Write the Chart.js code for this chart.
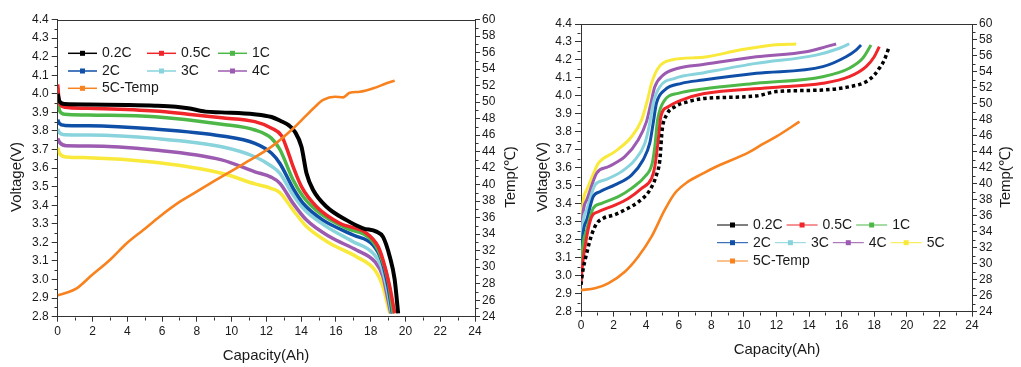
<!DOCTYPE html>
<html>
<head>
<meta charset="utf-8">
<script src="https://cdn.jsdelivr.net/npm/chart.js@4.4.0/dist/chart.umd.min.js"></script>
<style>
body{margin:0;background:#fff;}
#wrap{position:relative;width:1021px;height:367px;}
.box{position:absolute;top:0;height:367px;}
#boxL{left:0;width:520px;}
#boxR{left:520px;width:501px;}
</style>
</head>
<body>
<div id="wrap">
  <div class="box" id="boxL"><canvas id="chartL" width="520" height="367"></canvas></div>
  <div class="box" id="boxR"><canvas id="chartR" width="501" height="367"></canvas></div>
</div>
<script>
"use strict";

// ---- data: discharge (left) ----
const dCap02 = [0,0.1,0.4,1.8,4.0,5.6,6.8,7.5,8.5,9.4,11.3,12.3,12.8,13.3,13.64,14.02,14.31,14.69,15.46,16.61,17.56,18.33,18.71,19.1,19.38,19.58];
const dV02   = [4.00,3.96,3.945,3.943,3.94,3.936,3.93,3.922,3.904,3.90,3.89,3.875,3.855,3.83,3.796,3.715,3.572,3.482,3.392,3.32,3.276,3.258,3.23,3.123,3.0,2.818];
const dCap05 = [0,0.1,0.4,1.76,5.59,7.5,9.43,11.34,12.3,12.87,13.2,13.54,14.02,14.89,16.22,17.76,18.43,18.71,19.1,19.38];
const dV05   = [4.05,3.95,3.928,3.922,3.907,3.89,3.871,3.85,3.815,3.775,3.70,3.608,3.50,3.392,3.303,3.249,3.177,3.105,2.96,2.818];
const dCap1  = [0,0.1,0.4,1.76,5.59,9.43,11.34,12.3,12.78,13.54,14.12,15.08,16.61,17.95,18.52,19.0,19.29];
const dV1    = [4.03,3.91,3.89,3.886,3.877,3.836,3.805,3.76,3.70,3.536,3.446,3.357,3.276,3.222,3.141,2.998,2.818];
const dCap2  = [0,0.1,0.4,1.76,5.59,9.43,11.34,12.3,12.78,13.54,14.12,15.26,16.99,18.14,18.62,19.0,19.25];
const dV2    = [3.86,3.84,3.83,3.828,3.81,3.773,3.733,3.68,3.625,3.491,3.41,3.32,3.24,3.186,3.105,2.96,2.818];
const dCap3  = [0,0.1,0.4,1.76,5.59,9.43,11.34,12.3,12.78,13.54,14.21,15.46,16.99,18.14,18.62,19.0,19.2];
const dV3    = [3.81,3.79,3.78,3.778,3.76,3.715,3.661,3.61,3.572,3.455,3.374,3.285,3.204,3.141,3.07,2.926,2.818];
const dCap4  = [0,0.1,0.5,1.76,5.59,9.43,11.34,12.3,12.78,13.54,14.31,15.65,17.18,18.24,18.71,19.0,19.16];
const dV4    = [3.76,3.74,3.72,3.719,3.697,3.644,3.58,3.55,3.518,3.41,3.32,3.23,3.159,3.096,3.015,2.89,2.818];
const dCap5  = [0,0.1,0.5,1.76,5.59,9.43,11.34,12.3,12.78,13.54,14.31,15.65,17.18,18.24,18.71,19.0,19.1];
const dV5    = [3.71,3.68,3.66,3.656,3.631,3.572,3.515,3.49,3.468,3.374,3.285,3.195,3.123,3.051,2.96,2.854,2.818];
const tCapL  = [0,0.5,1.09,1.97,3.0,3.97,4.92,5.98,7.03,7.99,8.94,10.57,12.3,13.54,14.21,14.79,15.27,15.94,16.41,16.8,17.37,18.14,18.91,19.38];
const tempL  = [26.6,26.9,27.44,29.05,30.87,32.89,34.5,36.32,37.93,39.14,40.35,42.37,44.6,46.8,48.2,49.4,50.25,50.65,50.57,51.13,51.25,51.66,52.27,52.58];

// ---- data: charge (right) ----
const cCap02 = [0,0.1,0.35,0.65,0.96,1.37,2.08,2.69,3.51,4.23,4.63,4.84,4.98,5.25,5.76,6.57,7.49,10.76,11.98,14.84,16.47,17.5,18.0,18.31,18.62,18.92];
const cV02   = [2.95,3.02,3.125,3.227,3.29,3.32,3.34,3.366,3.41,3.477,3.56,3.644,3.81,3.894,3.94,3.968,3.985,4.0,4.024,4.033,4.051,4.079,4.116,4.154,4.2,4.274];
const cCap05 = [0,0.08,0.35,0.65,1.06,2.08,2.9,3.72,4.33,4.53,4.73,4.9,5.35,6.17,7.49,11.57,14.84,16.47,17.5,18.0,18.31];
const cV05   = [2.96,3.05,3.217,3.328,3.356,3.393,3.43,3.486,3.542,3.606,3.745,3.885,3.94,3.977,4.012,4.045,4.07,4.107,4.163,4.218,4.274];
const cCap1  = [0,0.04,0.35,0.75,1.27,2.29,3.1,3.92,4.37,4.53,4.7,5.14,5.96,7.49,10.76,14.84,16.47,17.29,17.8];
const cV1    = [2.97,3.087,3.254,3.375,3.403,3.44,3.486,3.551,3.625,3.718,3.866,3.977,4.014,4.038,4.07,4.107,4.154,4.209,4.283];
const cCap2  = [0,0.04,0.35,0.75,1.16,2.08,3.1,3.81,4.22,4.43,4.63,5.14,6.17,7.49,10.76,14.84,16.27,16.88,17.19];
const cV2    = [2.98,3.143,3.31,3.44,3.467,3.505,3.56,3.644,3.737,3.848,3.959,4.033,4.07,4.088,4.126,4.163,4.218,4.255,4.283];
const cCap3  = [0,0.04,0.35,0.86,1.47,2.49,3.31,3.92,4.22,4.43,4.84,5.76,7.49,10.76,14.43,15.86,16.47];
const cV3    = [3.0,3.2,3.366,3.505,3.533,3.579,3.644,3.737,3.848,3.959,4.051,4.098,4.128,4.181,4.227,4.265,4.289];
const cCap4  = [0,0.04,0.35,0.96,1.67,2.69,3.51,4.02,4.29,4.53,5.04,5.96,7.49,10.76,13.82,15.05,15.66];
const cV4    = [3.05,3.254,3.421,3.57,3.606,3.662,3.755,3.857,3.959,4.051,4.116,4.154,4.175,4.218,4.246,4.274,4.289];
const cCap5  = [0,0.04,0.35,0.86,1.06,2.08,3.1,3.72,4.08,4.33,4.73,5.55,7.49,9.74,11.78,13.21];
const cV5    = [3.1,3.31,3.477,3.588,3.625,3.69,3.773,3.866,3.977,4.07,4.154,4.2,4.215,4.255,4.283,4.289];
const tCapR  = [0,0.86,1.67,2.69,3.51,4.33,5.14,5.76,6.57,7.49,8.1,10.35,11.06,11.98,13.41];
const tempR  = [26.7,26.93,27.55,29.0,30.88,33.39,36.73,38.82,40.27,41.3,41.95,44.0,44.86,45.9,47.78];

const seriesNames = ["0.2C", "0.5C", "1C", "2C", "3C", "4C", "5C"];
const tempName = "5C-Temp";
const colors = {
    "0.2C": "#000000", "0.5C": "#f0262a", "1C": "#4db848", "2C": "#0f4fa8",
    "3C": "#88d3dc", "4C": "#9c5bb0", "5C": "#f9e93a", "5C-Temp": "#f7821e"
};
const legendRowsL = [["0.2C", "0.5C", "1C"], ["2C", "3C", "4C"], ["5C-Temp"]];
const legendRowsR = [["0.2C", "0.5C", "1C"], ["2C", "3C", "4C", "5C"], ["5C-Temp"]];

const FONT = "'Liberation Sans', Arial, Helvetica, sans-serif";
Chart.defaults.font.family = FONT;
Chart.defaults.font.size = 12;
Chart.defaults.color = "#1a1a1a";

function pts(xs, ys) {
    return xs.map((x, i) => ({x: x, y: ys[i]}));
}

function lineSet(name, xs, ys, width, dash) {
    return {
        label: name,
        data: pts(xs, ys),
        borderColor: colors[name],
        backgroundColor: colors[name],
        borderWidth: width,
        borderDash: dash || [],
        pointRadius: 0,
        cubicInterpolationMode: "monotone",
        yAxisID: "y",
        order: 1
    };
}

function tempSet(xs, ys) {
    let s = lineSet(tempName, xs, ys, 2.6);
    s.yAxisID = "yT";
    s.order = 0;
    return s;
}

function makeScales(o) {
    const grid = (len) => ({drawOnChartArea: false, tickLength: len, color: "#333", lineWidth: 1});
    const border = {display: true, color: "#333", width: 1};
    return {
        x: {
            type: "linear", position: "bottom", min: 0, max: 24,
            ticks: {stepSize: 2, padding: o.xPad, autoSkip: false, maxRotation: 0},
            grid: grid(5), border: border,
            afterFit: (s) => { s.height = o.xH; }
        },
        y: {
            type: "linear", position: "left", min: 2.8, max: 4.4,
            ticks: {stepSize: 0.1, padding: 3, autoSkip: false, callback: (v) => v.toFixed(1)},
            grid: grid(6), border: border,
            afterFit: (s) => { s.width = o.yW; }
        },
        yT: {
            type: "linear", position: "right", min: 24, max: 60,
            ticks: {stepSize: 2, padding: 2, autoSkip: false},
            grid: grid(5), border: border,
            afterFit: (s) => { s.width = o.tW; }
        }
    };
}

function drawLegendItem(ctx, name, x, y, len, gap, lw) {
    ctx.strokeStyle = colors[name];
    ctx.lineWidth = lw;
    ctx.beginPath();
    ctx.moveTo(x, y);
    ctx.lineTo(x + len, y);
    ctx.stroke();
    ctx.fillStyle = colors[name];
    ctx.fillRect(x + len / 2 - 2.5, y - 2.5, 5, 5);
    ctx.fillStyle = "#1a1a1a";
    ctx.fillText(name, x + len + gap, y);
    return x + len + gap + ctx.measureText(name).width;
}

function decor(cfg) {
    return {
        id: "decor",
        afterDraw(chart) {
            const ctx = chart.ctx;
            const a = chart.chartArea;
            const sx = chart.scales.x, sy = chart.scales.y, st = chart.scales.yT;
            ctx.save();

            // top frame line
            ctx.strokeStyle = "#333";
            ctx.lineWidth = 1;
            ctx.beginPath();
            ctx.moveTo(a.left, Math.round(a.top) + 0.5);
            ctx.lineTo(a.right, Math.round(a.top) + 0.5);
            ctx.stroke();

            // minor ticks
            ctx.beginPath();
            const yb = Math.round(a.bottom) + 0.5;
            for (let i = 1; i < 24; i += 2) {
                const px = Math.round(sx.getPixelForValue(i)) + 0.5;
                ctx.moveTo(px, yb);
                ctx.lineTo(px, yb + 3);
            }
            const xl = Math.round(a.left) - 0.5;
            for (let i = 1; i < 32; i += 2) {
                const py = Math.round(sy.getPixelForValue(2.8 + i * 0.05)) + 0.5;
                ctx.moveTo(xl, py);
                ctx.lineTo(xl - 3, py);
            }
            const xr = Math.round(a.right) + 0.5;
            for (let v = 25; v < 60; v += 2) {
                const py = Math.round(st.getPixelForValue(v)) + 0.5;
                ctx.moveTo(xr, py);
                ctx.lineTo(xr + 3, py);
            }
            ctx.stroke();

            // axis titles
            ctx.fillStyle = "#1a1a1a";
            ctx.font = "15px " + FONT;
            ctx.textAlign = "center";
            ctx.textBaseline = "alphabetic";
            ctx.fillText("Capacity(Ah)", cfg.capX, cfg.capY);
            [[cfg.voltX, "Voltage(V)"], [cfg.tempX, "Temp(\u2103)"]].forEach(([bx, txt]) => {
                ctx.save();
                ctx.translate(bx, cfg.titleY);
                ctx.rotate(-Math.PI / 2);
                ctx.fillText(txt, 0, 0);
                ctx.restore();
            });

            // legend
            ctx.font = "14px " + FONT;
            ctx.textAlign = "left";
            ctx.textBaseline = "middle";
            cfg.legendRows.forEach((row, r) => {
                let x = cfg.legX0;
                row.forEach((name, c) => {
                    if (cfg.legCols) x = cfg.legCols[c];
                    const end = drawLegendItem(ctx, name, x, cfg.legYs[r], cfg.legLen, cfg.legGap, cfg.legLW);
                    x = end + 4;
                });
            });
            ctx.restore();
        }
    };
}

// ---- left: discharge ----
const dischargeSets = [
    lineSet(seriesNames[0], dCap02, dV02, 4),
    lineSet(seriesNames[1], dCap05, dV05, 3.5),
    lineSet(seriesNames[2], dCap1, dV1, 3.5),
    lineSet(seriesNames[3], dCap2, dV2, 3.5),
    lineSet(seriesNames[4], dCap3, dV3, 3.5),
    lineSet(seriesNames[5], dCap4, dV4, 3.5),
    lineSet(seriesNames[6], dCap5, dV5, 3.5),
    tempSet(tCapL, tempL)
];

new Chart(document.getElementById("chartL"), {
    type: "line",
    data: {datasets: dischargeSets},
    options: {
        responsive: false,
        animation: false,
        layout: {padding: {top: 19.5, left: 0, right: 0, bottom: 0}},
        plugins: {legend: {display: false}, tooltip: {enabled: false}},
        scales: makeScales({xH: 50.3, yW: 57.7, tW: 45, xPad: 3})
    },
    plugins: [decor({
        capX: 266, capY: 359.5, voltX: 20.5, tempX: 515, titleY: 177,
        legendRows: legendRowsL, legCols: [68, 147, 218], legYs: [53.3, 71, 88.3],
        legX0: 68, legLen: 29, legGap: 5, legLW: 1.5
    })]
});

// ---- right: charge ----
const chargeSets = [
    lineSet(seriesNames[0], cCap02, cV02, 3.5, [3.5, 3]),
    lineSet(seriesNames[1], cCap05, cV05, 3),
    lineSet(seriesNames[2], cCap1, cV1, 3),
    lineSet(seriesNames[3], cCap2, cV2, 3),
    lineSet(seriesNames[4], cCap3, cV3, 3),
    lineSet(seriesNames[5], cCap4, cV4, 3),
    lineSet(seriesNames[6], cCap5, cV5, 3),
    tempSet(tCapR, tempR)
];

new Chart(document.getElementById("chartR"), {
    type: "line",
    data: {datasets: chargeSets},
    options: {
        responsive: false,
        animation: false,
        layout: {padding: {top: 24, left: 0, right: 0, bottom: 0}},
        plugins: {legend: {display: false}, tooltip: {enabled: false}},
        scales: makeScales({xH: 55.3, yW: 61, tW: 49, xPad: 2})
    },
    plugins: [decor({
        capX: 257, capY: 353.5, voltX: 26.5, tempX: 490, titleY: 177,
        legendRows: legendRowsR, legCols: null, legYs: [225, 242.7, 261],
        legX0: 197, legLen: 31, legGap: 5, legLW: 1
    })]
});
</script>
</body>
</html>
